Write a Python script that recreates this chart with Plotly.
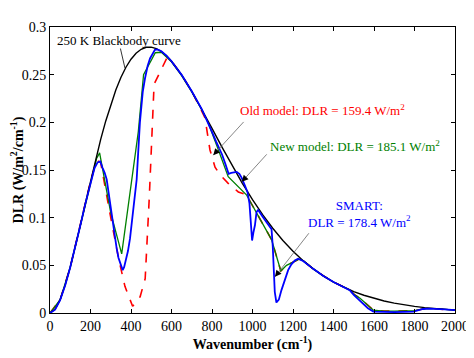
import plotly.graph_objects as go

# ---- 250 K blackbody curve ----
wn_bb = [0, 25, 50, 75, 100, 125, 150, 175, 200, 225, 250, 275, 300, 325, 350, 375, 400, 425,
         450, 475, 500, 525, 550, 575, 600, 650, 700, 750, 800, 850, 900, 950, 1000, 1050, 1100,
         1150, 1200, 1250, 1300, 1350, 1400, 1450, 1500, 1550, 1600, 1650, 1700, 1750, 1800,
         1850, 1900, 1950, 2000]
dlr_bb = [0, 0.0038, 0.0140, 0.0292, 0.0481, 0.0694, 0.0921, 0.1154, 0.1385, 0.1608, 0.1818,
          0.2012, 0.2186, 0.2339, 0.2470, 0.2578, 0.2662, 0.2725, 0.2766, 0.2787, 0.2789, 0.2774,
          0.2743, 0.2698, 0.2641, 0.2498, 0.2326, 0.2136, 0.1937, 0.1738, 0.1545, 0.1360, 0.1189,
          0.1031, 0.0889, 0.0761, 0.0648, 0.0549, 0.0463, 0.0389, 0.0325, 0.0271, 0.0225, 0.0186,
          0.0154, 0.0126, 0.0104, 0.0085, 0.0069, 0.0056, 0.0046, 0.0037, 0.0030]

# ---- SMART ----
wn_smart = [0, 25, 50, 75, 100, 125, 150, 175, 200, 220, 235, 248, 260, 270, 280, 290, 296, 305,
            313, 320, 329, 338, 346, 352, 359, 366, 375, 385, 395, 410, 428, 444, 458, 469, 482,
            494, 506, 518, 530, 550, 575, 600, 650, 700, 750, 780, 800, 820, 850, 865, 875, 882,
            895, 910, 922, 935, 946, 960, 975, 985, 992, 998, 1005, 1012, 1020, 1028, 1050, 1075,
            1094, 1100, 1105, 1110, 1118, 1130, 1143, 1160, 1176, 1192, 1209, 1225, 1250, 1300,
            1350, 1400, 1450, 1480, 1500, 1525, 1547, 1570, 1597, 1650, 1700, 1750, 1795, 1820,
            1842, 1875, 1900, 1950, 2000]
dlr_smart = [0, 0.0035, 0.0135, 0.029, 0.048, 0.069, 0.092, 0.115, 0.137, 0.152, 0.158, 0.159,
             0.152, 0.147, 0.140, 0.125, 0.113, 0.100, 0.090, 0.078, 0.068, 0.058, 0.052, 0.050,
             0.045, 0.048, 0.055, 0.065, 0.078, 0.105, 0.140, 0.200, 0.232, 0.246, 0.259, 0.267,
             0.272, 0.276, 0.2765, 0.2745, 0.2700, 0.2641, 0.2498, 0.2326, 0.2136, 0.200, 0.190,
             0.180, 0.166, 0.157, 0.150, 0.146, 0.147, 0.148, 0.148, 0.146, 0.142, 0.135, 0.127,
             0.115, 0.095, 0.076, 0.085, 0.092, 0.106, 0.108, 0.101, 0.094, 0.088, 0.070, 0.040,
             0.022, 0.011, 0.014, 0.024, 0.035, 0.045, 0.051, 0.055, 0.057, 0.0545, 0.0463, 0.0389,
             0.0325, 0.0271, 0.024, 0.019, 0.014, 0.0105, 0.005, 0.0015, 0.001, 0.001, 0.0012,
             0.0015, 0.003, 0.0042, 0.0046, 0.0045, 0.0038, 0.0031]

# ---- New model ----
wn_new = [0, 50, 100, 150, 200, 230, 245, 300, 354, 436, 462, 520, 550, 600, 650, 700, 750, 780,
          830, 880, 970, 1094, 1140, 1168, 1230, 1250, 1300, 1350, 1400, 1450, 1480, 1505, 1531,
          1597, 1650, 1700, 1750, 1800, 1850, 1900, 1950, 2000]
dlr_new = [0, 0.014, 0.048, 0.092, 0.1385, 0.162, 0.168, 0.105, 0.062, 0.19, 0.25, 0.273, 0.2735,
           0.2635, 0.249, 0.232, 0.213, 0.200, 0.172, 0.143, 0.124, 0.077, 0.044, 0.050, 0.0565,
           0.0549, 0.0463, 0.0389, 0.0325, 0.0271, 0.024, 0.019, 0.0154, 0.003, 0.002, 0.002,
           0.002, 0.0025, 0.0045, 0.0045, 0.0037, 0.003]

# ---- Old model ----
wn_old = [0, 50, 100, 150, 200, 230, 250, 300, 340, 370, 408, 445, 470, 490, 505, 514, 576, 600,
          650, 700, 765, 790, 815, 840, 880, 930, 970, 1094, 1140, 1168, 1230, 1250, 1300, 1350,
          1400, 1450, 1480, 1505, 1531, 1597, 1650, 1700, 1750, 1800, 1850, 1900, 1950, 2000]
dlr_old = [0, 0.014, 0.048, 0.092, 0.138, 0.16, 0.158, 0.10, 0.056, 0.028, 0.007, 0.017, 0.036,
           0.12, 0.20, 0.24, 0.267, 0.2641, 0.2498, 0.2326, 0.205, 0.171, 0.153, 0.145, 0.136,
           0.127, 0.124, 0.077, 0.044, 0.050, 0.0565, 0.0549, 0.0463, 0.0389, 0.0325, 0.0271,
           0.024, 0.019, 0.0154, 0.003, 0.002, 0.002, 0.002, 0.0025, 0.0045, 0.0045, 0.0037,
           0.003]

x_ticks = [0, 200, 400, 600, 800, 1000, 1200, 1400, 1600, 1800, 2000]
y_ticks = [0, 0.05, 0.1, 0.15, 0.2, 0.25, 0.3]
y_tick_text = ["0", "0.05", "0.1", "0.15", "0.2", "0.25", "0.3"]

RED = "#ff0000"
GREEN = "#008000"
BLUE = "#0000ff"
FONT = "Liberation Serif, Times New Roman, serif"

fig = go.Figure()
fig.add_trace(go.Scatter(x=wn_old, y=dlr_old, mode="lines",
                         line=dict(color=RED, width=1.6, dash="dash"), name="Old model"))
fig.add_trace(go.Scatter(x=wn_new, y=dlr_new, mode="lines",
                         line=dict(color=GREEN, width=1.3), name="New model"))
fig.add_trace(go.Scatter(x=wn_bb, y=dlr_bb, mode="lines",
                         line=dict(color="black", width=1.4), name="250 K Blackbody"))
fig.add_trace(go.Scatter(x=wn_smart, y=dlr_smart, mode="lines",
                         line=dict(color=BLUE, width=1.8), name="SMART"))

annotations = []


def arrow(head, tail, line_color):
    # line (no head)
    annotations.append(dict(x=head[0], y=head[1], ax=tail[0], ay=tail[1], xref="x", yref="y",
                            axref="x", ayref="y", text="", showarrow=True, arrowhead=0,
                            arrowwidth=0.8, arrowcolor=line_color))
    # black arrow head
    f = 0.12
    annotations.append(dict(x=head[0], y=head[1],
                            ax=head[0] + (tail[0] - head[0]) * f,
                            ay=head[1] + (tail[1] - head[1]) * f,
                            xref="x", yref="y", axref="x", ayref="y", text="", showarrow=True,
                            arrowhead=2, arrowsize=1.3, arrowwidth=1, arrowcolor="black"))


arrow((370, 0.257), (346, 0.279), "black")
arrow((806, 0.1656), (963, 0.202), "#666666")
arrow((947, 0.1376), (1077, 0.168), "#666666")
arrow((1111, 0.038), (1284, 0.0852), "#666666")

annotations.append(dict(x=341, y=0.286, xref="x", yref="y", text="250 K Blackbody curve",
                        showarrow=False, font=dict(family=FONT, size=13, color="black")))
annotations.append(dict(x=928, y=0.2128, xref="x", yref="y", xanchor="left",
                        text="Old model: DLR = 159.4 W/m<sup>2</sup>",
                        showarrow=False, font=dict(family=FONT, size=13, color=RED)))
annotations.append(dict(x=1077, y=0.175, xref="x", yref="y", xanchor="left",
                        text="New model: DLR = 185.1 W/m<sup>2</sup>",
                        showarrow=False, font=dict(family=FONT, size=13, color=GREEN)))
annotations.append(dict(x=1526, y=0.104, xref="x", yref="y", align="center",
                        text="SMART:<br>DLR = 178.4 W/m<sup>2</sup>",
                        showarrow=False, font=dict(family=FONT, size=13, color=BLUE)))

axis_common = dict(showline=True, linecolor="black", linewidth=1, mirror="allticks",
                   ticks="inside", ticklen=4, tickcolor="black", showgrid=False, zeroline=False,
                   automargin=False,
                   tickfont=dict(family=FONT, size=14, color="black"))

# page body has an 8px margin, so the figure is 8px smaller and margins shifted
fig.update_layout(
    width=466, height=350,
    margin=dict(l=42, r=19, t=19, b=45),
    paper_bgcolor="white", plot_bgcolor="white",
    showlegend=False,
    font=dict(family=FONT, size=13, color="black"),
    annotations=annotations,
    xaxis=dict(range=[0, 2000], tickvals=x_ticks,
               title=dict(text="<b>Wavenumber (cm<sup>-1</sup>)</b>", standoff=3,
                          font=dict(family=FONT, size=14)),
               **axis_common),
    yaxis=dict(range=[0, 0.3], tickvals=y_ticks, ticktext=y_tick_text,
               title=dict(text="<b>DLR (W/m<sup>2</sup>/cm<sup>-1</sup>)</b>", standoff=4,
                          font=dict(family=FONT, size=14)),
               **axis_common),
)

fig.write_html("out.html")
